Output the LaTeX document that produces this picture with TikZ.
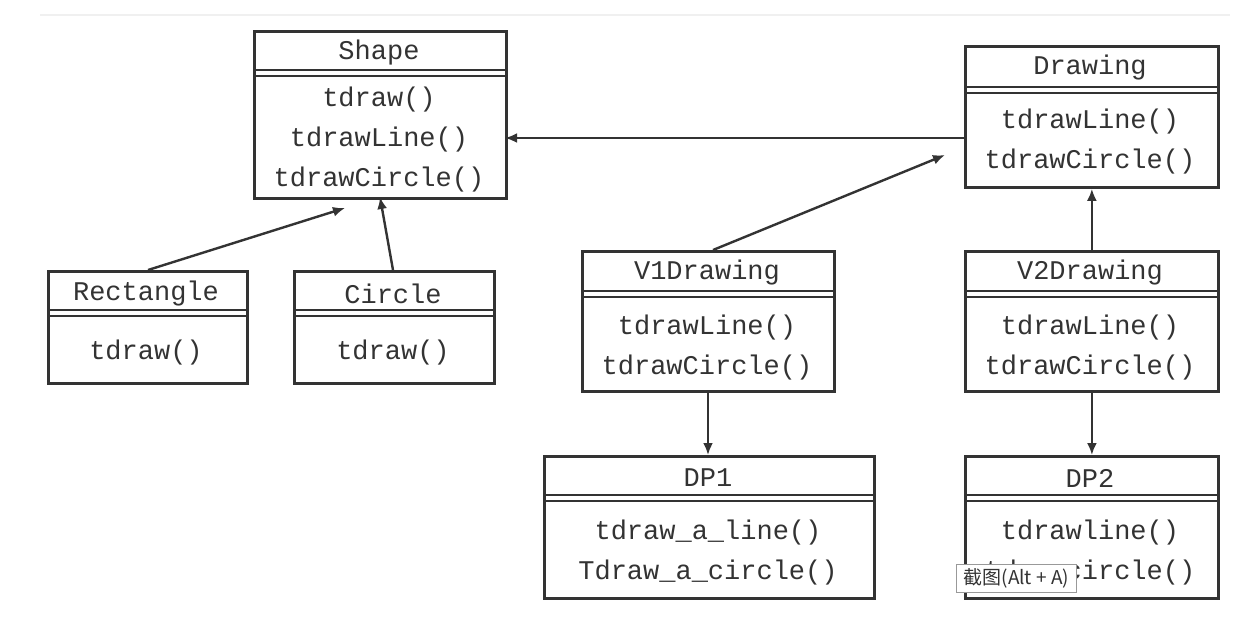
\documentclass[tikz,border=0pt]{standalone}
\usepackage{fontspec}
\setmainfont{Liberation Mono}
\newfontfamily\uifont{Noto Sans CJK SC}
\usetikzlibrary{arrows.meta}
\definecolor{ink}{HTML}{333333}
\begin{document}
\begin{tikzpicture}[x=0.5pt,y=-0.5pt,
  box/.style={draw=ink,line width=1.4pt,anchor=north west,inner sep=0pt,fill=white},
  txt/.style={text=ink,font=\fontsize{13.5}{14}\selectfont,inner sep=0pt},
  sep/.style={draw=ink,line width=1.1pt},
  arr/.style={draw=ink,line width=1.2pt,-{Latex[length=6pt,width=5pt]}}]
\useasboundingbox (0,0) rectangle (1238,618);
\fill[white] (0,0) rectangle (1238,618);
\draw[black!6,line width=1pt] (40,15) -- (1230,15);
% boxes
\newcommand\mybox[6]{% name, x1, y1, x2, y2, sepy
  \node[box,minimum width={(#4-#2)*0.5pt},minimum height={(#5-#3)*0.5pt}] (#1) at (#2,#3) {};
  \draw[sep] (#2,#6) -- (#4,#6); \draw[sep] (#2,#6+6) -- (#4,#6+6);}
\mybox{shape}{253}{30}{505}{197}{70}
\mybox{drawing}{964}{45}{1217}{186}{87}
\mybox{rect}{47}{270}{246}{382}{310}
\mybox{circ}{293}{270}{493}{382}{310}
\mybox{vone}{581}{250}{833}{390}{291}
\mybox{vtwo}{964}{250}{1217}{390}{291}
\mybox{dpone}{543}{455}{873}{597}{495}
\mybox{dptwo}{964}{455}{1217}{597}{495}
% texts
\node[txt] (t1) at (379,53) {Shape};
\node[txt] (t2) at (379,100) {tdraw()};
\node[txt] (t3) at (379,140) {tdrawLine()};
\node[txt] (t4) at (379,180) {tdrawCircle()};
\node[txt] (t5) at (1090,68) {Drawing};
\node[txt] (t6) at (1090,122) {tdrawLine()};
\node[txt] (t7) at (1090,162) {tdrawCircle()};
\node[txt] (t8) at (146,294) {Rectangle};
\node[txt] (t9) at (146,353) {tdraw()};
\node[txt] (t10) at (393,294) {Circle};
\node[txt] (t11) at (393,353) {tdraw()};
\node[txt] (t12) at (707,273) {V1Drawing};
\node[txt] (t13) at (707,328) {tdrawLine()};
\node[txt] (t14) at (707,368) {tdrawCircle()};
\node[txt] (t15) at (1090,273) {V2Drawing};
\node[txt] (t16) at (1090,328) {tdrawLine()};
\node[txt] (t17) at (1090,368) {tdrawCircle()};
\node[txt] (t18) at (708,478) {DP1};
\node[txt] (t19) at (708,533) {tdraw\_a\_line()};
\node[txt] (t20) at (708,573) {Tdraw\_a\_circle()};
\node[txt] (t21) at (1090,478) {DP2};
\node[txt] (t22) at (1090,533) {tdrawline()};
\node[txt] (t23) at (1090,573) {tdrawcircle()};
% connectors
\coordinate (d1) at (964,138); \coordinate (s1) at (505,138);
\draw[arr] (d1) -- (s1);
\coordinate (v1t) at (713,250); \coordinate (dtip) at (945,155);
\draw[arr] (v1t) -- (dtip);
\coordinate (rt) at (148,270); \coordinate (stip) at (345,208);
\draw[arr] (rt) -- (stip);
\coordinate (ct) at (393,270); \coordinate (sb) at (380,197);
\draw[arr] (ct) -- (sb);
\draw[arr] (vtwo.north) -- (drawing.south);
\draw[arr] (vone.south-|t18) -- (dpone.north-|t18);
\draw[arr] (vtwo.south) -- (dptwo.north);
% tooltip
\node[draw=black!40,fill=white,anchor=north west,inner sep=2pt,minimum width=60pt,minimum height=14pt,font=\uifont\fontsize{9.5}{10}\selectfont,text=black!80] (tip) at (956,564) {截图(Alt + A)};
\end{tikzpicture}
\end{document}
